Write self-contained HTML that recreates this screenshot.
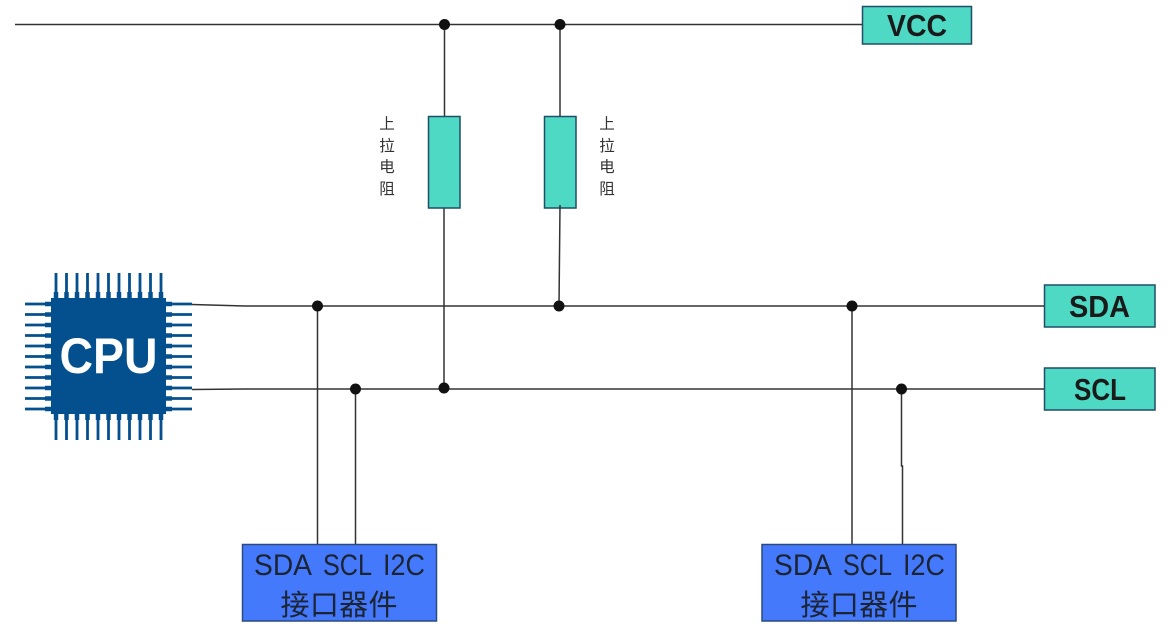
<!DOCTYPE html>
<html>
<head>
<meta charset="utf-8">
<style>
html,body{margin:0;padding:0;background:#fff;width:1176px;height:626px;overflow:hidden}
svg{display:block}
text{font-family:"Liberation Sans","Noto Sans CJK SC",sans-serif}
</style>
</head>
<body>
<svg width="1176" height="626" viewBox="0 0 1176 626" xmlns="http://www.w3.org/2000/svg">
<!-- wires -->
<g fill="none" stroke="#333" stroke-width="1.500">
<path d="M15 24.500H862"/>
<path d="M444.500 24.500V116M444 208V388"/>
<path d="M560 24.500V116M560 206L559 306"/>
<path d="M192 304.500L245 306H1044"/>
<path d="M192 389.500L245 389H1044"/>
<path d="M317.500 306V544M355.500 389V544"/>
<path d="M852 306V544M901.500 389V466L902.500 466V544"/>
</g>
<g fill="#111">
<circle cx="444.500" cy="24.500" r="5.500"/>
<circle cx="560" cy="24.500" r="5.500"/>
<circle cx="317.500" cy="306" r="5.500"/>
<circle cx="559" cy="306" r="5.500"/>
<circle cx="852" cy="306" r="5.500"/>
<circle cx="355.500" cy="389" r="5.500"/>
<circle cx="444" cy="388" r="5.500"/>
<circle cx="901.500" cy="389" r="5.500"/>
</g>
<!-- teal boxes -->
<g fill="#4dd9c4" stroke="#1f4e66" stroke-width="1.500">
<rect x="862.500" y="6.500" width="109" height="37.500"/>
<rect x="1044.500" y="285" width="110.500" height="42"/>
<rect x="1044.500" y="368" width="110.500" height="42"/>
<rect x="428.500" y="116.500" width="31.500" height="91.500"/>
<rect x="544.500" y="116.500" width="31.500" height="91.500"/>
</g>
<path d="M560 205V209" stroke="#333" stroke-width="1.500"/>
<g font-weight="bold" font-size="31" fill="#1a1a1a" text-anchor="middle">
<text x="917" y="36" textLength="60" lengthAdjust="spacingAndGlyphs">VCC</text>
<text x="1099.500" y="317" textLength="61" lengthAdjust="spacingAndGlyphs">SDA</text>
<text x="1100" y="400" textLength="52" lengthAdjust="spacingAndGlyphs">SCL</text>
</g>
<!-- vertical labels -->
<g font-size="15.500" fill="#333" text-anchor="middle">
<text x="387" y="129">上</text>
<text x="387" y="151">拉</text>
<text x="387" y="172">电</text>
<text x="387" y="194">阻</text>
<text x="607" y="129">上</text>
<text x="607" y="151">拉</text>
<text x="607" y="172">电</text>
<text x="607" y="194">阻</text>
</g>
<!-- device boxes -->
<g fill="#4479fb" stroke="#2a4a80" stroke-width="1.500">
<rect x="242.500" y="544.500" width="194" height="76.500"/>
<rect x="762" y="544.500" width="194" height="76.500"/>
</g>
<g font-size="30" fill="#1c2433" text-anchor="middle">
<text x="283" y="575" textLength="58" lengthAdjust="spacingAndGlyphs">SDA</text>
<text x="347.500" y="575" textLength="49" lengthAdjust="spacingAndGlyphs">SCL</text>
<text x="404" y="575" textLength="42" lengthAdjust="spacingAndGlyphs">I2C</text>
<text x="339" y="615" font-size="29" textLength="117" lengthAdjust="spacing">接口器件</text>
<text x="803" y="575" textLength="58" lengthAdjust="spacingAndGlyphs">SDA</text>
<text x="867.500" y="575" textLength="49" lengthAdjust="spacingAndGlyphs">SCL</text>
<text x="924" y="575" textLength="42" lengthAdjust="spacingAndGlyphs">I2C</text>
<text x="859" y="615" font-size="29" textLength="117" lengthAdjust="spacing">接口器件</text>
</g>
<!-- CPU -->
<g stroke="#04508f" stroke-width="2.800" fill="none">
<path d="M56 273V298M66.500 273V298M77 273V298M87.500 273V298M98 273V298M108.500 273V298M119 273V298M129.500 273V298M140 273V298M150.500 273V298M161 273V298"/>
<path d="M56 414V440M66.500 414V440M77 414V440M87.500 414V440M98 414V440M108.500 414V440M119 414V440M129.500 414V440M140 414V440M150.500 414V440M161 414V440"/>
<path d="M25 304H51M25 314.500H51M25 325H51M25 335.500H51M25 346H51M25 356.500H51M25 367H51M25 377.500H51M25 388H51M25 398.500H51M25 409H51"/>
<path d="M166 304H192M166 314.500H192M166 325H192M166 335.500H192M166 346H192M166 356.500H192M166 367H192M166 377.500H192M166 388H192M166 398.500H192M166 409H192"/>
</g>
<g stroke="#04508f" stroke-width="4.500" fill="none">
<path d="M56 292V298M66.500 292V298M77 292V298M87.500 292V298M98 292V298M108.500 292V298M119 292V298M129.500 292V298M140 292V298M150.500 292V298M161 292V298"/>
<path d="M56 413V420M66.500 413V420M77 413V420M87.500 413V420M98 413V420M108.500 413V420M119 413V420M129.500 413V420M140 413V420M150.500 413V420M161 413V420"/>
<path d="M45 304H52M45 314.500H52M45 325H52M45 335.500H52M45 346H52M45 356.500H52M45 367H52M45 377.500H52M45 388H52M45 398.500H52M45 409H52"/>
<path d="M165 304H172M165 314.500H172M165 325H172M165 335.500H172M165 346H172M165 356.500H172M165 367H172M165 377.500H172M165 388H172M165 398.500H172M165 409H172"/>
</g>
<rect x="51" y="298" width="115" height="116" fill="#04508f"/>
<text x="108.500" y="373" font-size="50" font-weight="bold" fill="#fff" text-anchor="middle" textLength="98" lengthAdjust="spacingAndGlyphs">CPU</text>
</svg>
</body>
</html>
